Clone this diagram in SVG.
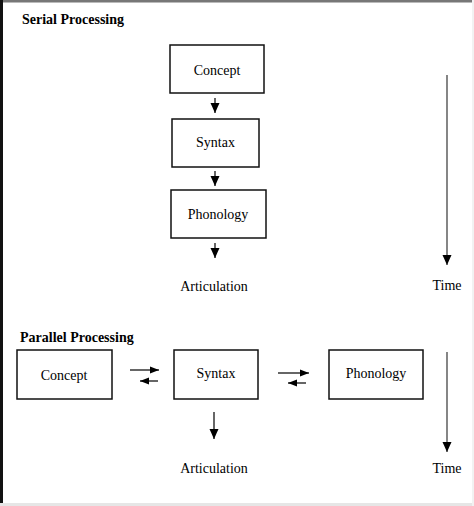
<svg xmlns="http://www.w3.org/2000/svg" width="474" height="506" viewBox="0 0 474 506">
<defs>
<marker id="ah" markerWidth="11" markerHeight="11" refX="10" refY="5.5" orient="auto" markerUnits="userSpaceOnUse">
<path d="M0,1 L10,5.5 L0,10 Z" fill="#000"/>
</marker>
<marker id="ahs" markerWidth="10" markerHeight="8" refX="9" refY="4" orient="auto" markerUnits="userSpaceOnUse">
<path d="M0,0.5 L9,4 L0,7.5 Z" fill="#000"/>
</marker>
</defs>
<style>
.box{fill:#fff;stroke:#111;stroke-width:1.5}
.t{font-family:"Liberation Serif","Times New Roman",serif;font-size:14px;fill:#000;text-anchor:middle}
.h{font-family:"Liberation Serif","Times New Roman",serif;font-size:14px;font-weight:bold;fill:#000}
.c{stroke:#000;stroke-width:1.2;fill:none}
.tl{stroke:#444;stroke-width:1.3;fill:none}
</style>
<rect x="0" y="0" width="474" height="506" fill="#fff"/>
<rect x="0" y="0" width="474" height="2.5" fill="#777"/>
<rect x="0" y="0" width="3" height="506" fill="#111"/>
<rect x="0" y="503" width="474" height="3" fill="#e6e6e6"/>
<rect x="472" y="0" width="2" height="506" fill="#f2f2f2"/>

<text class="h" x="22" y="24">Serial Processing</text>
<text class="h" x="20" y="342">Parallel Processing</text>

<g id="s-concept"><rect class="box" x="170" y="45" width="94" height="48"/><text class="t" x="217" y="75">Concept</text></g>
<g id="s-syntax"><rect class="box" x="172" y="119" width="87" height="48"/><text class="t" x="215.5" y="146.5">Syntax</text></g>
<g id="s-phonology"><rect class="box" x="171" y="190" width="95" height="48"/><text class="t" x="218" y="218.5">Phonology</text></g>
<g id="s-articulation"><text class="t" x="214" y="291">Articulation</text></g>
<g id="s-time"><text class="t" x="447" y="290">Time</text></g>

<g id="p-concept"><rect class="box" x="17" y="350" width="95" height="49"/><text class="t" x="64" y="380">Concept</text></g>
<g id="p-syntax"><rect class="box" x="174" y="350" width="84" height="49"/><text class="t" x="216" y="378">Syntax</text></g>
<g id="p-phonology"><rect class="box" x="329" y="350" width="94" height="49"/><text class="t" x="376" y="378">Phonology</text></g>
<g id="p-articulation"><text class="t" x="214" y="473">Articulation</text></g>
<g id="p-time"><text class="t" x="447" y="473">Time</text></g>

<g id="connectors">
<line class="c" x1="215" y1="98" x2="215" y2="113" marker-end="url(#ah)"/>
<line class="c" x1="215" y1="171" x2="215" y2="186" marker-end="url(#ah)"/>
<line class="c" x1="215" y1="243" x2="215" y2="258" marker-end="url(#ah)"/>
<line class="tl" x1="447" y1="75" x2="447" y2="265" marker-end="url(#ah)"/>

<line class="c" x1="130" y1="370" x2="159" y2="370" marker-end="url(#ahs)"/>
<line class="c" x1="158" y1="381" x2="140" y2="381" marker-end="url(#ahs)"/>
<line class="c" x1="278" y1="373" x2="309" y2="373" marker-end="url(#ahs)"/>
<line class="c" x1="306" y1="383" x2="288" y2="383" marker-end="url(#ahs)"/>
<line class="c" x1="214" y1="412" x2="214" y2="439" marker-end="url(#ah)"/>
<line class="tl" x1="447" y1="352" x2="447" y2="452" marker-end="url(#ah)"/>
</g>
</svg>
